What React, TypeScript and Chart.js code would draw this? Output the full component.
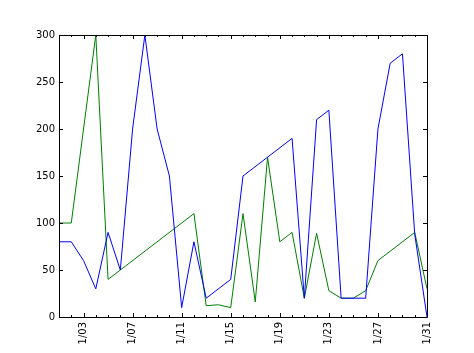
import React, { useEffect, useRef } from "react";
import { Chart, registerables } from "chart.js";

Chart.register(...registerables);

const days = [1,2,3,4,5,6,7,8,9,10,11,12,13,14,15,16,17,18,19,20,21,22,23,24,25,26,27,28,29,30,31];
const blueValues: (number | null)[] = [80,80,60,30,90,50,200,300,200,150,10,80,20,null,40,150,null,null,null,190,20,210,220,20,null,20,200,270,280,88,0];
const greenValues: (number | null)[] = [100,100,null,300,40,null,null,null,null,null,null,110,12,13,10,110,16,170,80,90,20,89,28,20,20,28,60,null,null,90,30];
const majorDays = [3,7,11,15,19,23,27,31];
const majorLabels = ["1/03","1/07","1/11","1/15","1/19","1/23","1/27","1/31"];
const yTicks = [0,50,100,150,200,250,300];

const framePlugin = {
  id: "frame",
  afterDraw(chart: any) {
    const { ctx, chartArea } = chart;
    const xs = chart.scales.x;
    const ys = chart.scales.y;
    const l = chartArea.left, r = chartArea.right, t = chartArea.top, b = chartArea.bottom;
    ctx.save();
    ctx.strokeStyle = "#000";
    ctx.lineWidth = 1;
    ctx.beginPath();
    ctx.rect(Math.round(l) + 0.5, Math.round(t) + 0.5, Math.round(r - l), Math.round(b - t));
    ctx.stroke();
    ctx.beginPath();
    days.forEach((d) => {
      const px = Math.round(xs.getPixelForValue(d)) + 0.5;
      const len = majorDays.includes(d) ? 4 : 2;
      ctx.moveTo(px, b); ctx.lineTo(px, b - len);
      ctx.moveTo(px, t); ctx.lineTo(px, t + len);
    });
    yTicks.forEach((v) => {
      const py = Math.round(ys.getPixelForValue(v)) + 0.5;
      ctx.moveTo(l, py); ctx.lineTo(l + 4, py);
      ctx.moveTo(r, py); ctx.lineTo(r - 4, py);
    });
    ctx.stroke();
    ctx.restore();
  },
};

const bgPlugin = {
  id: "bg",
  beforeDraw(chart: any) {
    const { ctx, width, height } = chart;
    ctx.save();
    ctx.fillStyle = "#fff";
    ctx.fillRect(0, 0, width, height);
    ctx.restore();
  },
};

export default function App() {
  const ref = useRef<HTMLCanvasElement>(null);
  useEffect(() => {
    if (!ref.current) return;
    const font = { family: "'DejaVu Sans', sans-serif", size: 10 };
    const chart = new Chart(ref.current, {
      type: "line",
      data: {
        datasets: [
          {
            label: "blue",
            data: days.map((d, i) => ({ x: d, y: blueValues[i] })) as any,
            borderColor: "#0000ff",
            borderWidth: 1,
            pointRadius: 0,
            tension: 0,
            spanGaps: true,
          },
          {
            label: "green",
            data: days.map((d, i) => ({ x: d, y: greenValues[i] })) as any,
            borderColor: "#008000",
            borderWidth: 1,
            pointRadius: 0,
            tension: 0,
            spanGaps: true,
          },
        ],
      },
      options: {
        animation: false,
        responsive: false,
        devicePixelRatio: 1,
        layout: { padding: { left: 0, top: 35, right: 47, bottom: 0 } },
        plugins: { legend: { display: false }, tooltip: { enabled: false } },
        scales: {
          x: {
            type: "linear",
            min: 1,
            max: 31,
            grid: { display: false, drawTicks: false },
            border: { display: false },
            afterBuildTicks: (scale: any) => {
              scale.ticks = majorDays.map((v) => ({ value: v }));
            },
            afterFit: (scale: any) => { scale.height = 36; },
            ticks: {
              font,
              color: "#000",
              padding: 5,
              minRotation: 90,
              maxRotation: 90,
              autoSkip: false,
              callback: (v: any) => {
                const i = majorDays.indexOf(Number(v));
                return i >= 0 ? majorLabels[i] : "";
              },
            },
          },
          y: {
            min: 0,
            max: 300,
            grid: { display: false, drawTicks: false },
            border: { display: false },
            afterBuildTicks: (scale: any) => {
              scale.ticks = yTicks.map((v) => ({ value: v }));
            },
            afterFit: (scale: any) => { scale.width = 59; },
            ticks: { font, color: "#000", padding: 4 },
          },
        },
      },
      plugins: [bgPlugin, framePlugin],
    });
    return () => chart.destroy();
  }, []);
  return (
    <div style={{ position: "fixed", left: 0, top: 0, width: 474, height: 353, background: "#fff" }}>
      <canvas ref={ref} width={474} height={353} style={{ display: "block" }} />
    </div>
  );
}
